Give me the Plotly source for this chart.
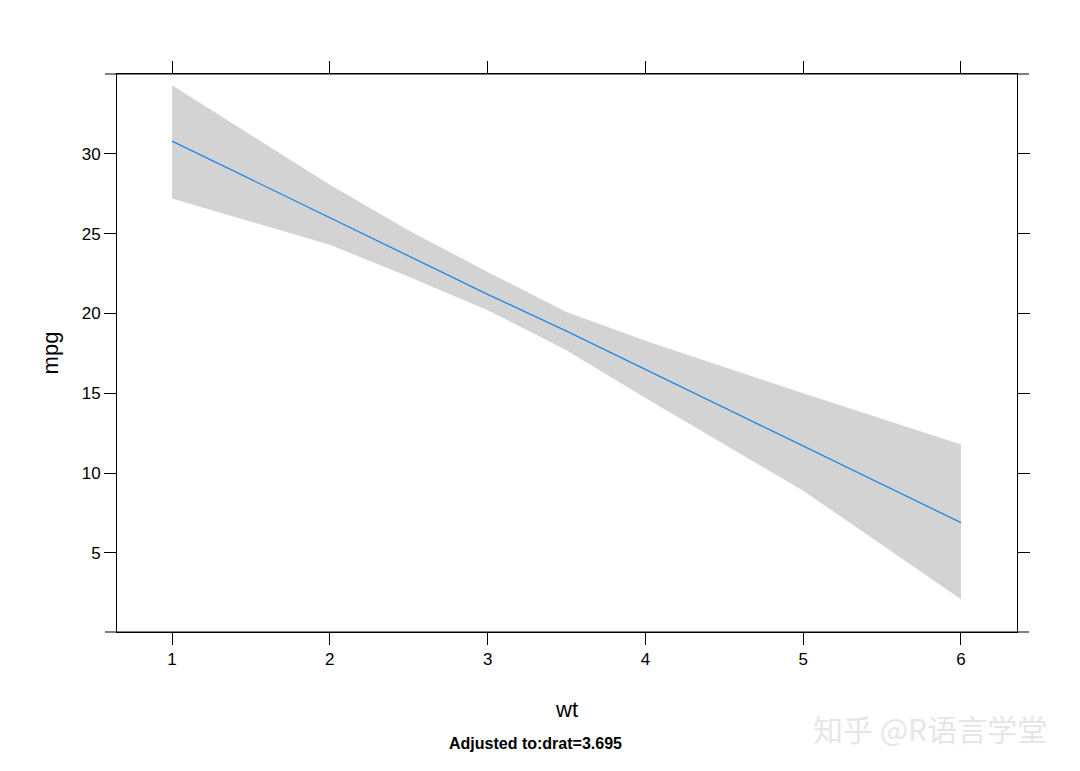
import plotly.graph_objects as go

wt = [1, 2, 2.5, 3, 3.5, 4, 5, 6]
mpg_fit = [30.8, 26.0, 23.6, 21.2, 18.9, 16.5, 11.7, 6.9]
mpg_upper = [34.3, 28.06, 25.2, 22.6, 20.1, 18.3, 15.0, 11.8]
mpg_lower = [27.2, 24.3, 22.3, 20.2, 17.7, 14.7, 8.9, 2.1]
x_ticks = [1, 2, 3, 4, 5, 6]
y_ticks = [5, 10, 15, 20, 25, 30]

fig = go.Figure()
fig.add_trace(go.Scatter(x=wt, y=mpg_upper, mode="lines", line=dict(width=0), showlegend=False))
fig.add_trace(go.Scatter(x=wt, y=mpg_lower, mode="lines", line=dict(width=0),
                         fill="tonexty", fillcolor="#d3d3d3", showlegend=False))
fig.add_trace(go.Scatter(x=wt, y=mpg_fit, mode="lines", line=dict(color="#1e88e5", width=1.3),
                         showlegend=False))

axis_common = dict(showgrid=False, zeroline=False, showline=True, linecolor="black", linewidth=1,
                   mirror="ticks", ticks="outside", ticklen=12, tickcolor="black",
                   tickfont=dict(size=17, color="black"))
fig.update_xaxes(range=[0.651, 6.355], tickvals=x_ticks,
                 title=dict(text="wt", font=dict(size=22, color="black"), standoff=33), **axis_common)
fig.update_yaxes(range=[0.05, 35.0], tickvals=y_ticks,
                 title=dict(text="mpg", font=dict(size=22, color="black"), standoff=16), **axis_common)

# lattice draws the top and bottom box edges out past the corners
for yy in (0, 1):
    fig.add_shape(type="line", xref="paper", yref="paper", x0=-0.0133, x1=1.0133,
                  y0=yy, y1=yy, line=dict(color="black", width=1))

fig.add_annotation(text="<b>Adjusted to:drat=3.695</b>", xref="paper", yref="paper",
                   x=0.465, y=-0.2, yanchor="middle", showarrow=False,
                   font=dict(size=16, color="black"))
fig.add_annotation(text="知乎 @R语言学堂", xref="paper", yref="paper",
                   x=1.035, y=-0.172, xanchor="right", yanchor="middle", showarrow=False,
                   font=dict(size=30, color="#e6e6e6", family="Noto Sans CJK SC"))

fig.update_layout(width=1080, height=771, margin=dict(l=109, r=71, t=66, b=147),
                  plot_bgcolor="white", paper_bgcolor="white",
                  font=dict(family="Liberation Sans"))
fig.write_html("out.html")
